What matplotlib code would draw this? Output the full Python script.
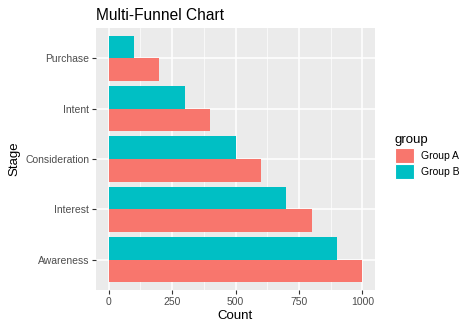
import numpy as np
import matplotlib.pyplot as plt
from matplotlib.patches import Patch

plt.rcParams['font.family'] = ['Liberation Sans', 'DejaVu Sans']

stages = ['Awareness', 'Interest', 'Consideration', 'Intent', 'Purchase']
group_a = [1000, 800, 600, 400, 200]
group_b = [900, 700, 500, 300, 100]
groups = ['Group A', 'Group B']
colors = ['#F8766D', '#00BFC4']

fig = plt.figure(figsize=(4.74, 3.29), dpi=100)
ax = fig.add_axes([96 / 474, 1 - 290 / 329, (375 - 96) / 474, (290 - 28) / 329])

# dodged horizontal bars, group A below group B in each stage
pos = np.arange(1, len(stages) + 1)
h = 0.45
ax.barh(pos - h / 2, group_a, height=h, color=colors[0], zorder=2)
ax.barh(pos + h / 2, group_b, height=h, color=colors[1], zorder=2)

ax.set_facecolor('#EBEBEB')
ax.set_xlim(-50, 1050)
ax.set_ylim(0.4, 5.6)
ax.set_xticks([0, 250, 500, 750, 1000])
ax.set_xticks([125, 375, 625, 875], minor=True)
ax.set_yticks(pos)
ax.set_yticklabels(stages)
ax.grid(which='major', color='white', linewidth=1.1, zorder=0)
ax.grid(which='minor', axis='x', color='white', linewidth=0.5, zorder=0)
for s in ax.spines.values():
    s.set_visible(False)
ax.tick_params(which='major', length=3, color='#333333', labelcolor='#4D4D4D',
               labelsize=7.5, pad=2)
ax.tick_params(which='minor', length=0)

ax.set_xlabel('Count', fontsize=9.5, labelpad=2)
ax.set_ylabel('Stage', fontsize=9.5, labelpad=3)
ax.set_title('Multi-Funnel Chart', fontsize=11.2, loc='left', pad=6)

handles = [Patch(facecolor=c, edgecolor='white', linewidth=0.8, label=g)
           for c, g in zip(colors, groups)]
leg = fig.legend(handles=handles, title='group', loc='upper left',
                 bbox_to_anchor=(385.5 / 474, 1 - 125 / 329), frameon=False,
                 fontsize=7.5, title_fontsize=9.5, handlelength=1.8,
                 handleheight=1.8, handletextpad=0.7, labelspacing=0.15)
leg._legend_box.align = 'left'

fig.savefig('out.png', dpi=100)
